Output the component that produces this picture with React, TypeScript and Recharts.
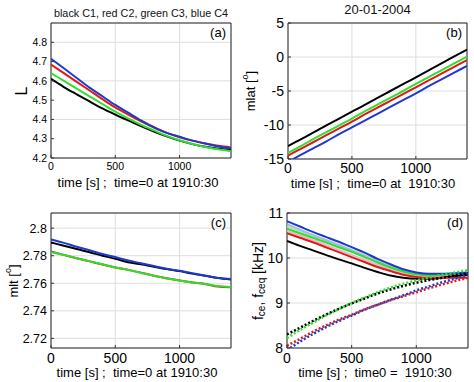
import React from 'react';
import { LineChart, Line, XAxis, YAxis, CartesianGrid, ReferenceArea } from 'recharts';

const FONT = '"Liberation Sans", Arial, Helvetica, sans-serif';

const TIME = [0, 100, 200, 300, 400, 500, 600, 700, 800, 900, 1000, 1100, 1200, 1300, 1400];
const X_TICKS = [0, 500, 1000];

// (a) L-shell
const L_BLACK = [4.61, 4.568, 4.53, 4.493, 4.457, 4.425, 4.395, 4.365, 4.337, 4.312, 4.29, 4.272, 4.258, 4.248, 4.242];
const L_RED = [4.685, 4.64, 4.595, 4.55, 4.505, 4.462, 4.425, 4.39, 4.358, 4.33, 4.308, 4.29, 4.275, 4.263, 4.255];
const L_GREEN = [4.64, 4.6, 4.56, 4.52, 4.48, 4.44, 4.405, 4.372, 4.343, 4.315, 4.292, 4.273, 4.257, 4.245, 4.235];
const L_BLUE = [4.715, 4.665, 4.615, 4.565, 4.52, 4.475, 4.435, 4.395, 4.36, 4.33, 4.31, 4.29, 4.275, 4.26, 4.25];
const L_TICKS = [4.2, 4.3, 4.4, 4.5, 4.6, 4.7, 4.8];

// (b) mlat
const MLAT_BLACK = [-13.1, -12.1, -11.1, -10.05, -9.05, -8.05, -7.05, -6.0, -5.0, -4.0, -3.0, -1.95, -0.95, 0.1, 1.1];
const MLAT_GREEN = [-14.1, -13.1, -12.05, -11.05, -10.05, -9.05, -8.0, -7.0, -6.0, -5.0, -3.95, -2.95, -1.95, -0.95, 0.05];
const MLAT_RED = [-14.5, -13.5, -12.5, -11.5, -10.5, -9.5, -8.45, -7.45, -6.45, -5.45, -4.45, -3.45, -2.45, -1.45, -0.45];
const MLAT_BLUE = [-15.4, -14.4, -13.4, -12.4, -11.35, -10.35, -9.35, -8.35, -7.35, -6.35, -5.35, -4.3, -3.3, -2.3, -1.3];
const MLAT_TICKS = [-15, -10, -5, 0, 5];

// (c) mlt
const MLT_BLACK = [2.7896, 2.7872, 2.7848, 2.7825, 2.78, 2.7778, 2.7752, 2.7738, 2.772, 2.7703, 2.7688, 2.767, 2.7654, 2.7638, 2.7628];
const MLT_BLUE = [2.7918, 2.7893, 2.7865, 2.784, 2.7812, 2.779, 2.7765, 2.7745, 2.7725, 2.7705, 2.769, 2.7672, 2.7655, 2.7638, 2.763];
const MLT_RED = [2.783, 2.7806, 2.7782, 2.7759, 2.7736, 2.7714, 2.7697, 2.7677, 2.7655, 2.7636, 2.762, 2.7606, 2.7594, 2.7576, 2.7571];
const MLT_GREEN = [2.7825, 2.7805, 2.7782, 2.776, 2.7738, 2.7715, 2.7698, 2.7675, 2.7655, 2.7635, 2.762, 2.7605, 2.7595, 2.758, 2.7572];
const MLT_TICKS = [2.72, 2.74, 2.76, 2.78, 2.8];

// (d) fce (solid) and fceq (dotted)
const FCE_BLACK = [10.38, 10.27, 10.17, 10.07, 9.97, 9.88, 9.78, 9.69, 9.61, 9.56, 9.54, 9.54, 9.56, 9.6, 9.63];
const FCE_RED = [10.55, 10.45, 10.35, 10.24, 10.13, 10.02, 9.91, 9.8, 9.71, 9.63, 9.58, 9.56, 9.56, 9.56, 9.56];
const FCE_PINK = [10.6, 10.5, 10.4, 10.29, 10.18, 10.07, 9.96, 9.85, 9.75, 9.67, 9.61, 9.59, 9.6, 9.61, 9.62];
const FCE_GREEN = [10.65, 10.55, 10.45, 10.35, 10.24, 10.14, 10.02, 9.9, 9.79, 9.7, 9.64, 9.62, 9.63, 9.65, 9.68];
const FCE_LIGHTGREEN = [10.7, 10.6, 10.5, 10.4, 10.29, 10.18, 10.06, 9.94, 9.83, 9.73, 9.67, 9.64, 9.64, 9.66, 9.69];
const FCE_LIGHTBLUE = [10.75, 10.63, 10.51, 10.4, 10.29, 10.17, 10.05, 9.92, 9.81, 9.71, 9.65, 9.63, 9.63, 9.65, 9.66];
const FCE_BLUE = [10.82, 10.7, 10.58, 10.47, 10.36, 10.24, 10.12, 9.98, 9.86, 9.75, 9.68, 9.65, 9.65, 9.66, 9.67];
const FCEQ_BLACK = [8.3, 8.45, 8.6, 8.74, 8.87, 8.99, 9.1, 9.21, 9.3, 9.38, 9.45, 9.51, 9.56, 9.61, 9.66];
const FCEQ_GREEN = [8.22, 8.4, 8.56, 8.72, 8.86, 9.0, 9.12, 9.24, 9.34, 9.43, 9.5, 9.57, 9.63, 9.68, 9.73];
const FCEQ_RED = [8.05, 8.2, 8.36, 8.5, 8.63, 8.74, 8.86, 8.96, 9.06, 9.15, 9.24, 9.33, 9.41, 9.49, 9.56];
const FCEQ_BLUE = [7.95, 8.14, 8.31, 8.46, 8.6, 8.72, 8.85, 8.96, 9.07, 9.17, 9.28, 9.37, 9.46, 9.54, 9.63];
const F_TICKS = [8, 9, 10, 11];

const C_BLACK = '#000000';
const C_RED = '#e01818';
const C_GREEN = '#2ee02e';
const C_BLUE = '#1c3ad0';

type Series = { key: string; values: number[]; color: string; dotted?: boolean; width?: number };

const buildRows = (series: Series[]) =>
  TIME.map((t, i) => {
    const row: Record<string, number> = { t };
    series.forEach((s) => {
      row[s.key] = s.values[i];
    });
    return row;
  });

type PanelProps = {
  left: number;
  top: number;
  width: number;
  height: number;
  margin: { top: number; right: number; bottom: number; left: number };
  xAxisHeight: number;
  yDomain: [number, number];
  yTicks: number[];
  yTickFont: number;
  xTickFont: number;
  xTickMargin: number;
  series: Series[];
  tag: string;
  title?: string;
  titleFont?: number;
  titleOffset?: number;
  xLabel: string;
  xLabelPos: { x: number; y: number };
  yLabel: React.ReactNode;
  yLabelPos: { x: number; y: number };
  yLabelFont: number;
};

const Panel = (p: PanelProps) => {
  const rows = buildRows(p.series);
  return (
    <div style={{ position: 'absolute', left: p.left, top: p.top, width: p.width, height: p.height }}>
      <LineChart width={p.width} height={p.height} data={rows} margin={p.margin} style={{ fontFamily: FONT }}>
        <CartesianGrid stroke="#dedede" strokeWidth={1} />
        <XAxis
          dataKey="t"
          type="number"
          domain={[0, 1400]}
          ticks={X_TICKS}
          allowDataOverflow
          height={p.xAxisHeight}
          axisLine={false}
          tickSize={-3}
          tickMargin={p.xTickMargin}
          tickLine={{ stroke: '#333' }}
          tick={{ fill: '#000', fontSize: p.xTickFont, fontFamily: FONT }}
          label={{
            content: () => (
              <text x={p.xLabelPos.x} y={p.xLabelPos.y} textAnchor="middle" fontSize={13} fill="#000" fontFamily={FONT}>
                {p.xLabel}
              </text>
            ),
          }}
        />
        <YAxis
          type="number"
          domain={p.yDomain}
          ticks={p.yTicks}
          allowDataOverflow
          width={40}
          axisLine={false}
          tickSize={-3}
          tickMargin={7}
          tickLine={{ stroke: '#333' }}
          tickFormatter={(v: number) => String(+v.toFixed(2))}
          tick={{ fill: '#000', fontSize: p.yTickFont, fontFamily: FONT }}
          label={{
            content: () => (
              <text
                x={p.yLabelPos.x}
                y={p.yLabelPos.y}
                transform={`rotate(-90 ${p.yLabelPos.x} ${p.yLabelPos.y})`}
                textAnchor="middle"
                dominantBaseline="central"
                fontSize={p.yLabelFont}
                fill="#000"
                fontFamily={FONT}
              >
                {p.yLabel}
              </text>
            ),
          }}
        />
        {p.series.map((s) => (
          <Line
            key={s.key}
            dataKey={s.key}
            stroke={s.color}
            strokeWidth={s.width ?? 2}
            strokeDasharray={s.dotted ? '2 2' : undefined}
            dot={false}
            activeDot={false}
            isAnimationActive={false}
            type="monotone"
          />
        ))}
        {p.title ? (
          <ReferenceArea
            x1={0}
            x2={1400}
            y1={p.yDomain[0]}
            y2={p.yDomain[1]}
            fill="none"
            stroke="none"
            label={{ value: p.title, position: 'top', offset: p.titleOffset ?? 6, fontSize: p.titleFont ?? 10, fill: '#111', fontFamily: FONT }}
          />
        ) : null}
        <ReferenceArea
          x1={0}
          x2={1400}
          y1={p.yDomain[0]}
          y2={p.yDomain[1]}
          fill="none"
          fillOpacity={0}
          stroke="#262626"
          strokeWidth={1}
          label={{ value: p.tag, position: 'insideTopRight', offset: 5, fontSize: 13, fill: '#000', fontFamily: FONT }}
        />
      </LineChart>
    </div>
  );
};

const seriesA: Series[] = [
  { key: 'black', values: L_BLACK, color: C_BLACK },
  { key: 'red', values: L_RED, color: C_RED },
  { key: 'green', values: L_GREEN, color: C_GREEN },
  { key: 'blue', values: L_BLUE, color: C_BLUE },
];

const seriesB: Series[] = [
  { key: 'black', values: MLAT_BLACK, color: C_BLACK },
  { key: 'green', values: MLAT_GREEN, color: C_GREEN },
  { key: 'red', values: MLAT_RED, color: C_RED },
  { key: 'blue', values: MLAT_BLUE, color: C_BLUE },
];

const seriesC: Series[] = [
  { key: 'red', values: MLT_RED, color: C_RED },
  { key: 'green', values: MLT_GREEN, color: C_GREEN },
  { key: 'black', values: MLT_BLACK, color: C_BLACK },
  { key: 'blue', values: MLT_BLUE, color: C_BLUE },
];

const seriesD: Series[] = [
  { key: 'pink', values: FCE_PINK, color: '#e9b9c9' },
  { key: 'lightgreen', values: FCE_LIGHTGREEN, color: '#b0e6b0' },
  { key: 'lightblue', values: FCE_LIGHTBLUE, color: '#a9b8ec' },
  { key: 'black', values: FCE_BLACK, color: C_BLACK },
  { key: 'red', values: FCE_RED, color: C_RED },
  { key: 'green', values: FCE_GREEN, color: C_GREEN },
  { key: 'blue', values: FCE_BLUE, color: C_BLUE },
  { key: 'redq', values: FCEQ_RED, color: C_RED, dotted: true, width: 2.5 },
  { key: 'blueq', values: FCEQ_BLUE, color: C_BLUE, dotted: true, width: 2.5 },
  { key: 'blackq', values: FCEQ_BLACK, color: C_BLACK, dotted: true, width: 2.5 },
  { key: 'greenq', values: FCEQ_GREEN, color: C_GREEN, dotted: true, width: 2.5 },
];

const degLabel = (name: string) => (
  <>
    {name} [<tspan dy={-5} fontSize={9}>o</tspan>
    <tspan dy={5}>]</tspan>
  </>
);

const fLabel = (
  <>
    f<tspan dy={3} fontSize={10}>ce</tspan>
    <tspan dy={-3}>, f</tspan>
    <tspan dy={3} fontSize={10}>ceq</tspan>
    <tspan dy={-3}> [kHz]</tspan>
  </>
);

const NB = '\u00a0';

export default function App() {
  return (
    <div style={{ position: 'absolute', left: 0, top: 0, width: 474, height: 382, background: '#fff', fontFamily: FONT }}>
      <Panel
        left={0}
        top={0}
        width={237}
        height={190}
        margin={{ top: 23, right: 6, left: 11, bottom: 0 }}
        xAxisHeight={32}
        yDomain={[4.2, 4.9]}
        yTicks={L_TICKS}
        yTickFont={10.5}
        xTickFont={10.5}
        xTickMargin={8}
        series={seriesA}
        tag="(a)"
        title="black C1, red C2, green C3, blue C4"
        titleFont={10.8}
        titleOffset={6}
        xLabel={`time [s] ;${NB} time=0 at 1910:30`}
        xLabelPos={{ x: 138, y: 187 }}
        yLabel="L"
        yLabelPos={{ x: 21, y: 91 }}
        yLabelFont={16}
      />
      <Panel
        left={237}
        top={0}
        width={237}
        height={190}
        margin={{ top: 23, right: 7, left: 11, bottom: 0 }}
        xAxisHeight={31}
        yDomain={[-15, 5]}
        yTicks={MLAT_TICKS}
        yTickFont={14}
        xTickFont={14}
        xTickMargin={7}
        series={seriesB}
        tag="(b)"
        title="20-01-2004"
        titleFont={13}
        titleOffset={9}
        xLabel={`time [s] ;${NB} time=0 at${NB} 1910:30`}
        xLabelPos={{ x: 136, y: 188 }}
        yLabel={degLabel('mlat')}
        yLabelPos={{ x: 13, y: 91 }}
        yLabelFont={13}
      />
      <Panel
        left={0}
        top={190}
        width={237}
        height={192}
        margin={{ top: 23, right: 6, left: 11, bottom: 0 }}
        xAxisHeight={34}
        yDomain={[2.713, 2.811]}
        yTicks={MLT_TICKS}
        yTickFont={12.5}
        xTickFont={14}
        xTickMargin={8}
        series={seriesC}
        tag="(c)"
        xLabel={`time [s] ;${NB} time=0 at 1910:30`}
        xLabelPos={{ x: 137, y: 187 }}
        yLabel={degLabel('mlt')}
        yLabelPos={{ x: 13, y: 91 }}
        yLabelFont={13}
      />
      <Panel
        left={237}
        top={190}
        width={237}
        height={192}
        margin={{ top: 23, right: 6, left: 10, bottom: 0 }}
        xAxisHeight={34}
        yDomain={[8, 11]}
        yTicks={F_TICKS}
        yTickFont={14}
        xTickFont={14}
        xTickMargin={8}
        series={seriesD}
        tag="(d)"
        xLabel={`time [s] ;${NB} time0 =${NB} 1910:30`}
        xLabelPos={{ x: 138, y: 187 }}
        yLabel={fLabel}
        yLabelPos={{ x: 21, y: 91 }}
        yLabelFont={14}
      />
    </div>
  );
}
